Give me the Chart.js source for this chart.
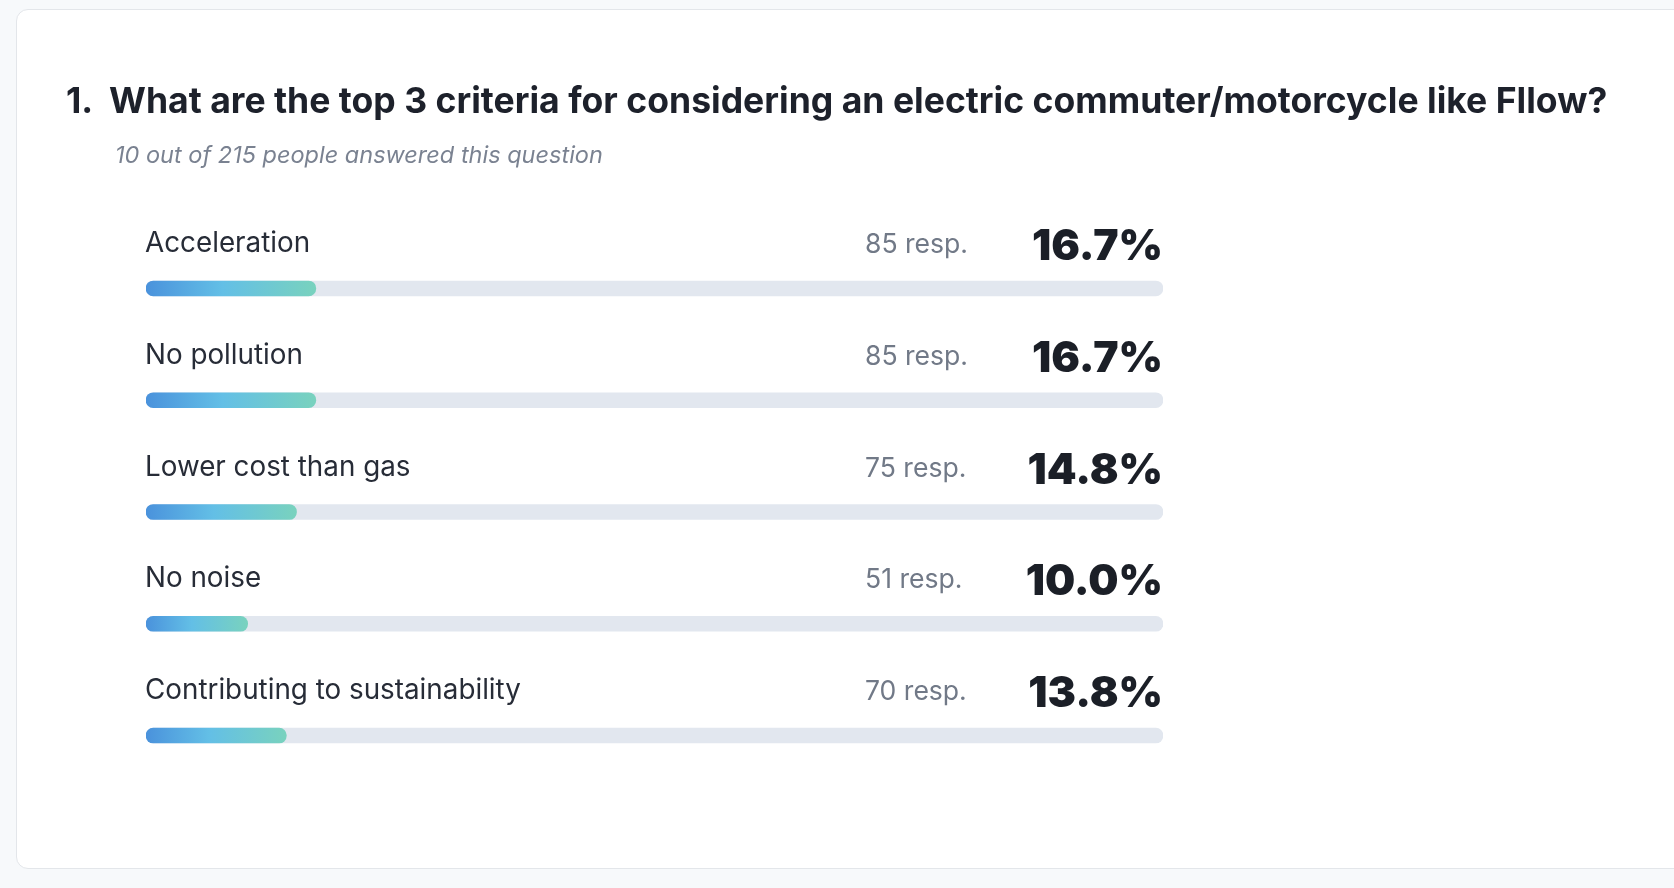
<!DOCTYPE html>
<html>
<head>
<meta charset="utf-8">
<script src="https://cdn.jsdelivr.net/npm/chart.js@4"></script>
<style>
  html, body { margin: 0; padding: 0; }
  body { width: 1674px; height: 888px; background: #f7f9fb; position: relative; overflow: hidden; }
  .card {
    position: absolute; left: 16px; top: 9px; width: 1700px; height: 860px;
    background: #fff; border: 1px solid #e3e6ea; border-radius: 12px; box-sizing: border-box;
  }
  canvas { position: absolute; left: 0; top: 0; }
</style>
</head>
<body>
<div class="card"></div>
<canvas id="surveyChart" width="1674" height="888"></canvas>
<script>
  const categories = ['Acceleration', 'No pollution', 'Lower cost than gas', 'No noise', 'Contributing to sustainability'];
  const responses = [85, 85, 75, 51, 70];
  const percents = [16.7, 16.7, 14.8, 10.0, 13.8];
  const fullTrack = [100, 100, 100, 100, 100];

  const questionNumber = '1.';
  const questionText = 'What are the top 3 criteria for considering an electric commuter/motorcycle like Fllow?';
  const answeredText = '10 out of 215 people answered this question';

  const FONT = 'Inter, "Noto Sans", sans-serif';

  // pick a font size so a text spans the width measured on the reference
  function fitSize(ctx, text, weight, style, width) {
    ctx.font = `${style} ${weight} 40px ${FONT}`;
    return 40 * width / ctx.measureText(text).width;
  }

  const textPlugin = {
    id: 'surveyText',
    afterDatasetsDraw(chart) {
      const { ctx } = chart;
      const meta = chart.getDatasetMeta(0);
      ctx.save();
      ctx.textBaseline = 'alphabetic';

      // title + subtitle
      let size = fitSize(ctx, questionText, 700, 'normal', 1499);
      ctx.font = `normal 700 ${size}px ${FONT}`;
      ctx.fillStyle = '#1d212b';
      ctx.textAlign = 'left';
      ctx.fillText(questionNumber, 66, 113);
      ctx.fillText(questionText, 109, 113);

      size = fitSize(ctx, answeredText, 400, 'italic', 488);
      ctx.font = `italic 400 ${size}px ${FONT}`;
      ctx.fillStyle = '#7a8291';
      ctx.fillText(answeredText, 115, 163);

      const labelSize = fitSize(ctx, categories[4], 400, 'normal', 376);
      const respSize = fitSize(ctx, '85 resp.', 400, 'normal', 103);
      const pctSize = fitSize(ctx, '16.7%', 900, 'normal', 131);
      const left = chart.chartArea.left;
      const right = chart.chartArea.right;

      meta.data.forEach((bar, i) => {
        const y = bar.y;
        ctx.textAlign = 'left';
        ctx.font = `normal 400 ${labelSize}px ${FONT}`;
        ctx.fillStyle = '#272c37';
        ctx.fillText(categories[i], left - 1, y - 36.5);

        ctx.font = `normal 400 ${respSize}px ${FONT}`;
        ctx.fillStyle = '#717987';
        ctx.fillText(`${responses[i]} resp.`, 865, y - 35.5);

        ctx.textAlign = 'right';
        ctx.font = `normal 900 ${pctSize}px ${FONT}`;
        ctx.fillStyle = '#1b1f27';
        ctx.fillText(`${percents[i].toFixed(1)}%`, right, y - 28.5);
      });
      ctx.restore();
    },
  };

  function barGradient(c) {
    const { chart } = c;
    const area = chart.chartArea;
    if (!area || !chart.scales.x) return '#62bfe4';
    const x0 = area.left;
    const x1 = chart.scales.x.getPixelForValue(c.raw);
    const g = chart.ctx.createLinearGradient(x0, 0, x1, 0);
    g.addColorStop(0, '#4a92dc');
    g.addColorStop(0.45, '#63bfe6');
    g.addColorStop(1, '#79d2be');
    return g;
  }

  const ctx = document.getElementById('surveyChart').getContext('2d');
  new Chart(ctx, {
    type: 'bar',
    data: {
      labels: categories,
      datasets: [
        {
          label: 'Share',
          data: percents,
          backgroundColor: barGradient,
          borderRadius: 8,
          borderSkipped: false,
          barThickness: 15,
          grouped: false,
        },
        {
          label: 'Track',
          data: fullTrack,
          backgroundColor: '#e2e7ef',
          borderRadius: 8,
          borderSkipped: false,
          barThickness: 15,
          grouped: false,
        },
      ],
    },
    options: {
      indexAxis: 'y',
      responsive: false,
      animation: false,
      devicePixelRatio: 1,
      layout: { padding: { left: 146, right: 511, top: 232.6, bottom: 96.6 } },
      scales: {
        x: { type: 'linear', min: 0, max: 100, display: false },
        y: { type: 'category', display: false },
      },
      plugins: {
        legend: { display: false },
        tooltip: { enabled: false },
      },
    },
    plugins: [textPlugin],
  });
</script>
</body>
</html>
